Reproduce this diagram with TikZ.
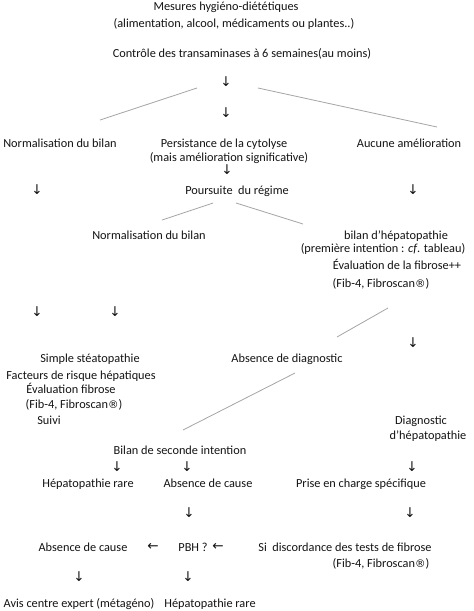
\documentclass[tikz,border=0pt]{standalone}
\usepackage{fontspec}
\setmainfont{Carlito}
\newfontfamily\arrfont{DejaVu Sans}
\newcommand{\regmark}{{\arrfont\fontsize{10.5}{10}\selectfont ®}}
\definecolor{txt}{RGB}{20,20,20}
\definecolor{ln}{RGB}{165,165,165}
\begin{document}
\begin{tikzpicture}[x=1pt,y=-1pt,
  every node/.style={inner sep=0pt, text=txt, font=\fontsize{12.3}{16}\selectfont},
  lbl/.style={anchor=base},
  arr/.style={anchor=center, font=\arrfont\fontsize{13.5}{14}\selectfont},
  conn/.style={draw=ln, line width=0.8pt}]
\useasboundingbox[fill=white] (0,0) rectangle (474,611);
% texts
\node[lbl] (t1) at (226,10) {Mesures hygiéno-diététiques};
\node[lbl] (t2) at (234,27) {(alimentation, alcool, médicaments ou plantes..)};
\node[lbl] (t3) at (242,57) {Contrôle des transaminases à 6 semaines(au moins)};
\node[arr] (a1) at (226,82) {↓};
\node[arr] (a2) at (226,113) {↓};
\node[lbl] (n1) at (60,147) {Normalisation du bilan};
\node[lbl] (p1) at (224,147) {Persistance de la cytolyse};
\node[lbl] (p2) at (229,161) {(mais amélioration significative)};
\node[arr] (a3) at (227,170) {↓};
\node[lbl] (u1) at (409,147) {Aucune amélioration};
\node[arr] (a4) at (37,190) {↓};
\node[lbl] (r1) at (237,194) {Poursuite\ \ du régime};
\node[arr] (a5) at (413,190) {↓};
\node[lbl] (n2) at (149,239) {Normalisation du bilan};
\node[lbl] (h1) at (396,239) {bilan d’hépatopathie};
\node[lbl] (h2) at (383,252) {(première intention : \textit{cf}. tableau)};
\node[lbl] (h3) at (397,269) {Évaluation de la fibrose++};
\node[lbl] (h4) at (381,287) {(Fib-4, Fibroscan\regmark)};
\node[arr] (a6) at (37,312) {↓};
\node[arr] (a7) at (115,312) {↓};
\node[arr] (a8) at (413,343) {↓};
\node[lbl] (s1) at (90,362) {Simple stéatopathie};
\node[lbl] (ad) at (287,362) {Absence de diagnostic};
\node[lbl] (s2) at (81,379) {Facteurs de risque hépatiques};
\node[lbl] (s3) at (71,393) {Évaluation fibrose};
\node[lbl] (s4) at (74,408) {(Fib-4, Fibroscan\regmark)};
\node[lbl] (s5) at (49,424) {Suivi};
\node[lbl] (d1) at (421,424) {Diagnostic};
\node[lbl] (d2) at (428,439) {d’hépatopathie};
\node[lbl] (b1) at (180,454) {Bilan de seconde intention};
\node[arr] (a9) at (117,467) {↓};
\node[arr] (a10) at (187,467) {↓};
\node[arr] (a11) at (412,467) {↓};
\node[lbl] (hr1) at (88,487) {Hépatopathie rare};
\node[lbl] (ac1) at (208,487) {Absence de cause};
\node[lbl] (pc) at (361,487) {Prise en charge spécifique};
\node[arr] (a12) at (189,513) {↓};
\node[arr] (a13) at (410,513) {↓};
\node[lbl] (ac2) at (83,551) {Absence de cause};
\node[arr] (la1) at (153,547) {←};
\node[lbl] (pbh) at (193,551) {PBH ?};
\node[arr] (la2) at (218,547) {←};
\node[lbl] (si1) at (345,551) {Si\ \ discordance des tests de fibrose};
\node[lbl] (si2) at (381,567) {(Fib-4, Fibroscan\regmark)};
\node[arr] (a14) at (79,577) {↓};
\node[arr] (a15) at (188,577) {↓};
\node[lbl] (av) at (79,607) {Avis centre expert (métagéno)};
\node[lbl] (hr2) at (210,607) {Hépatopathie rare};
% connector end points
\coordinate (c1a) at (197,88);  \coordinate (c1b) at (100,120);
\coordinate (c2a) at (258,88);  \coordinate (c2b) at (437,127);
\coordinate (c3a) at (213,203); \coordinate (c3b) at (162,220);
\coordinate (c4a) at (236,203); \coordinate (c4b) at (303,224);
\coordinate (c5a) at (388,308); \coordinate (c5b) at (337,337);
\coordinate (c6a) at (295,373); \coordinate (c6b) at (183,430);
\draw[conn] (c1a) -- (c1b);
\draw[conn] (c2a) -- (c2b);
\draw[conn] (c3a) -- (c3b);
\draw[conn] (c4a) -- (c4b);
\draw[conn] (c5a) -- (c5b);
\draw[conn] (c6a) -- (c6b);
\end{tikzpicture}
\end{document}
